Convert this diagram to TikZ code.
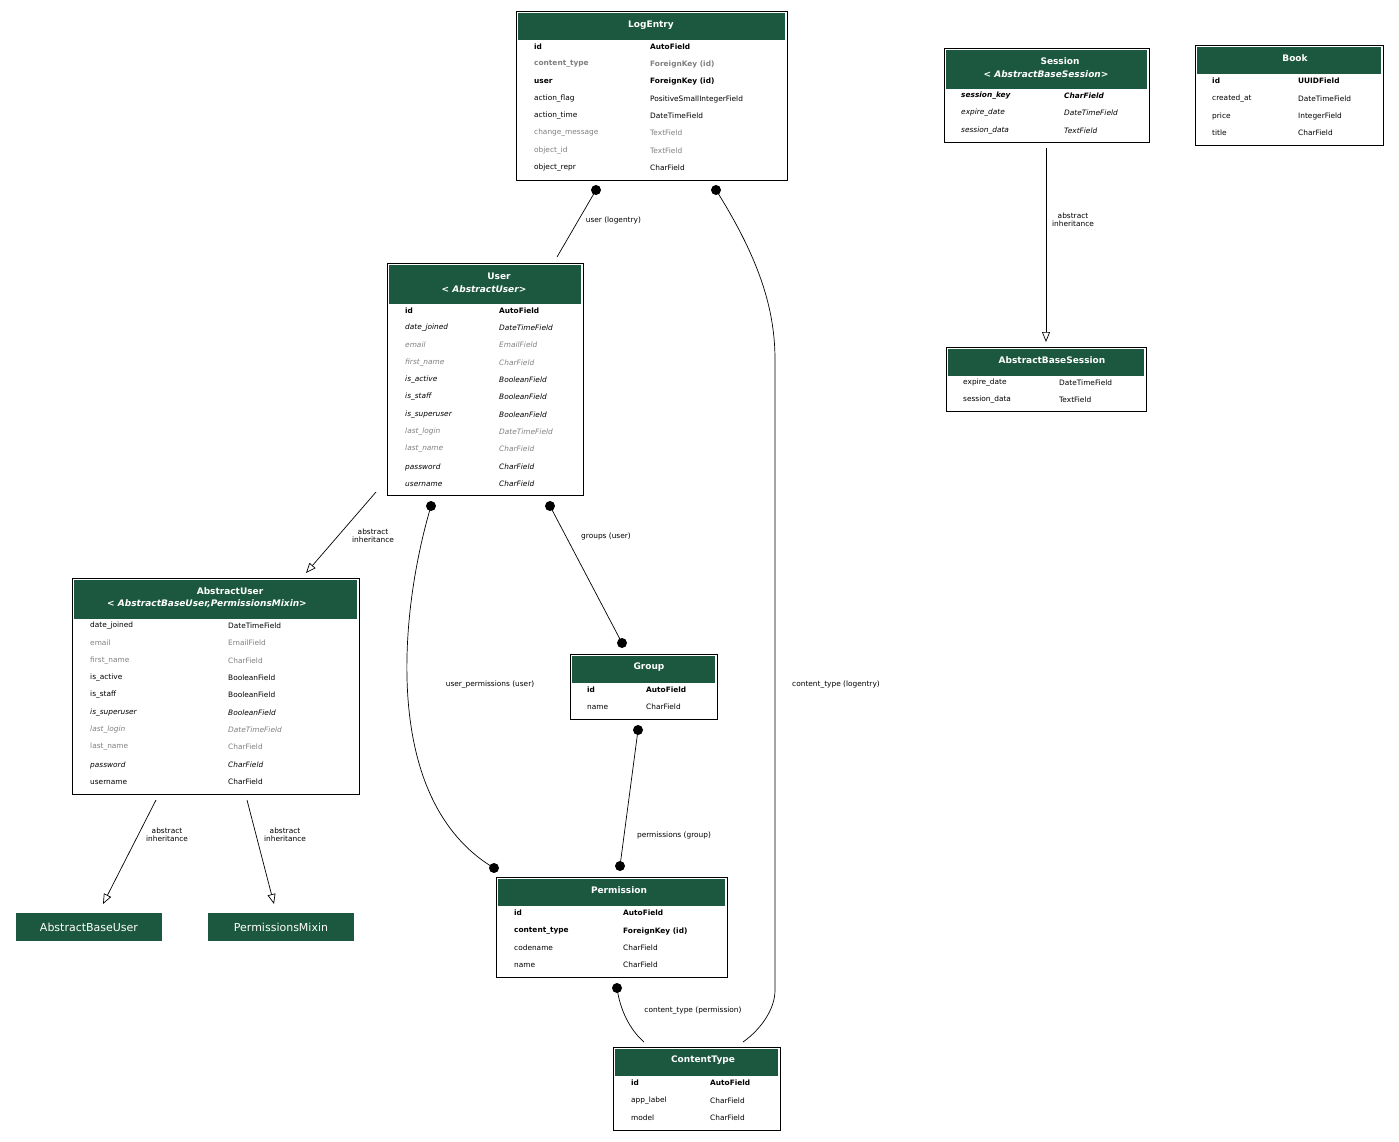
\documentclass[tikz,border=0pt]{standalone}
\usepackage{fontspec}
\setmainfont{DejaVu Sans}
\usetikzlibrary{arrows.meta}
\definecolor{hdr}{HTML}{1C5840}
\definecolor{gr}{HTML}{808080}
\tikzset{
 frame/.style={draw=black,line width=0.8pt,fill=white},
 hd/.style={fill=hdr},
 ttl/.style={text=white,font=\fontsize{9}{10}\selectfont\bfseries,inner sep=0pt},
 sub/.style={text=white,font=\fontsize{9}{10}\selectfont\bfseries\itshape,inner sep=0pt},
 f/.style={anchor=west,inner sep=0pt,font=\fontsize{7.4}{8}\selectfont},
 n/.style={f},
 b/.style={f,font=\fontsize{7.4}{8}\selectfont\bfseries},
 bg/.style={b,text=gr},
 g/.style={f,text=gr},
 i/.style={f,font=\fontsize{7.4}{8}\selectfont\itshape},
 ig/.style={i,text=gr},
 bi/.style={f,font=\fontsize{7.4}{8}\selectfont\bfseries\itshape},
 edge/.style={draw=black,line width=0.7pt},
 inh/.style={edge,-{Triangle[open,length=10pt,width=8pt]}},
 dot/.style={circle,fill=black,inner sep=0pt,minimum size=10pt},
 lbl/.style={font=\fontsize{7.4}{8}\selectfont,align=center,inner sep=1pt},
 plain/.style={fill=hdr,text=white,font=\fontsize{11}{12}\selectfont,minimum width=146pt,minimum height=28pt,inner sep=0pt}
}
\newcommand{\tb}[6]{% name x1 y1 x2 y2 headerbottom
 \path[frame] (#2,#3) rectangle (#4,#5);
 \path[hd] (#2+2,#3+2) rectangle (#4-2,#6);
 \coordinate (#1) at ({(#2+#4)/2},{(#3+#5)/2});
}
\newcommand{\rw}[5]{\node[#3] at (#1,#2) {#4}; \node[#3] at (#5,#2) {\phantom{x}};}
\newcommand{\fr}[6]{\node[#1] at (#2,#4) {#5}; \node[#1] at (#3,#4) {#6};}
\begin{document}
\begin{tikzpicture}[x=1pt,y=-1pt]
\useasboundingbox (0,0) rectangle (1399,1141);
% LogEntry
\tb{logentry}{516}{11}{787}{180}{40}
\node[ttl] at (651,25) {LogEntry};
\fr{b}{534}{650}{47}{id}{AutoField}
\fr{bg}{534}{650}{64}{content\_type}{ForeignKey (id)}
\fr{b}{534}{650}{81}{user}{ForeignKey (id)}
\fr{n}{534}{650}{99}{action\_flag}{PositiveSmallIntegerField}
\fr{n}{534}{650}{116}{action\_time}{DateTimeField}
\fr{g}{534}{650}{133}{change\_message}{TextField}
\fr{g}{534}{650}{151}{object\_id}{TextField}
\fr{n}{534}{650}{168}{object\_repr}{CharField}
% Session
\tb{session}{944}{48}{1149}{142}{89}
\node[ttl] at (1060,61) {Session};
\node[sub] at (1046,74) {< AbstractBaseSession>};
\fr{bi}{961}{1064}{96}{session\_key}{CharField}
\fr{i}{961}{1064}{113}{expire\_date}{DateTimeField}
\fr{i}{961}{1064}{131}{session\_data}{TextField}
% Book
\tb{book}{1195}{45}{1383}{145}{74}
\node[ttl] at (1295,58) {Book};
\fr{b}{1212}{1298}{81}{id}{UUIDField}
\fr{n}{1212}{1298}{99}{created\_at}{DateTimeField}
\fr{n}{1212}{1298}{116}{price}{IntegerField}
\fr{n}{1212}{1298}{133}{title}{CharField}
% AbstractBaseSession
\tb{abs}{946}{347}{1146}{411}{376}
\node[ttl] at (1052,360) {AbstractBaseSession};
\fr{n}{963}{1059}{383}{expire\_date}{DateTimeField}
\fr{n}{963}{1059}{400}{session\_data}{TextField}
% User
\tb{user}{387}{263}{583}{495}{304}
\node[ttl] at (499,276) {User};
\node[sub] at (484,289) {< AbstractUser>};
\fr{b}{405}{499}{311}{id}{AutoField}
\fr{i}{405}{499}{328}{date\_joined}{DateTimeField}
\fr{ig}{405}{499}{345}{email}{EmailField}
\fr{ig}{405}{499}{363}{first\_name}{CharField}
\fr{i}{405}{499}{380}{is\_active}{BooleanField}
\fr{i}{405}{499}{397}{is\_staff}{BooleanField}
\fr{i}{405}{499}{415}{is\_superuser}{BooleanField}
\fr{ig}{405}{499}{432}{last\_login}{DateTimeField}
\fr{ig}{405}{499}{449}{last\_name}{CharField}
\fr{i}{405}{499}{467}{password}{CharField}
\fr{i}{405}{499}{484}{username}{CharField}
% AbstractUser
\tb{au}{72}{578}{359}{794}{619}
\node[ttl] at (230,591) {AbstractUser};
\node[sub] at (207,604) {< AbstractBaseUser,PermissionsMixin>};
\fr{n}{90}{228}{626}{date\_joined}{DateTimeField}
\fr{g}{90}{228}{643}{email}{EmailField}
\fr{g}{90}{228}{661}{first\_name}{CharField}
\fr{n}{90}{228}{678}{is\_active}{BooleanField}
\fr{n}{90}{228}{695}{is\_staff}{BooleanField}
\fr{i}{90}{228}{713}{is\_superuser}{BooleanField}
\fr{ig}{90}{228}{730}{last\_login}{DateTimeField}
\fr{g}{90}{228}{747}{last\_name}{CharField}
\fr{i}{90}{228}{765}{password}{CharField}
\fr{n}{90}{228}{782}{username}{CharField}
% Group
\tb{group}{570}{654}{717}{719}{683}
\node[ttl] at (649,667) {Group};
\fr{b}{587}{646}{690}{id}{AutoField}
\fr{n}{587}{646}{707}{name}{CharField}
% Permission
\tb{perm}{496}{877}{727}{977}{906}
\node[ttl] at (619,890) {Permission};
\fr{b}{514}{623}{913}{id}{AutoField}
\fr{b}{514}{623}{931}{content\_type}{ForeignKey (id)}
\fr{n}{514}{623}{948}{codename}{CharField}
\fr{n}{514}{623}{965}{name}{CharField}
% ContentType
\tb{ct}{613}{1047}{780}{1130}{1076}
\node[ttl] at (703,1060) {ContentType};
\fr{b}{631}{710}{1083}{id}{AutoField}
\fr{n}{631}{710}{1101}{app\_label}{CharField}
\fr{n}{631}{710}{1118}{model}{CharField}
% plain
\node[plain] (abu) at (89,927) {AbstractBaseUser};
\node[plain] (pm) at (281,927) {PermissionsMixin};
% dots and endpoints
\node[dot] (d1) at (596,190) {};
\node[dot] (d2) at (716,190) {};
\node[dot] (d3) at (431,506) {};
\node[dot] (d4) at (550,506) {};
\node[dot] (d5) at (622,643) {};
\node[dot] (d6) at (494,868) {};
\node[dot] (d7) at (638,730) {};
\node[dot] (d8) at (620,866) {};
\node[dot] (d9) at (617,988) {};
\coordinate (e1) at (557,257);
\coordinate (e2) at (743,1042);
\coordinate (e3) at (644,1042);
\coordinate (s1) at (1046,148);
\coordinate (s2) at (1046,342);
\coordinate (u1) at (376,492);
\coordinate (u2) at (306,573);
\coordinate (a1) at (156,800);
\coordinate (a2) at (103,904);
\coordinate (a3) at (247,800);
\coordinate (a4) at (274,904);
% edges
\draw[edge] (d1.center) -- (e1) node[lbl,pos=0.45,right=6pt] {user (logentry)};
\draw[edge] (d2.center) .. controls (760,260) and (775,310) .. (775,360) -- (775,990) .. controls (775,1010) and (760,1030) .. (e2);
\node[lbl] at (836,685) {content\_type (logentry)};
\draw[inh] (s1) -- (s2);
\node[lbl] at (1073,220) {abstract\\inheritance};
\draw[inh] (u1) -- (u2);
\node[lbl] at (373,536) {abstract\\inheritance};
\draw[edge] (d4.center) -- (d5.center);
\node[lbl] at (606,536) {groups (user)};
\draw[edge] (d3.center) .. controls (400,610) and (380,800) .. (d6.center);
\node[lbl] at (490,685) {user\_permissions (user)};
\draw[edge] (d7.center) -- (d8.center);
\node[lbl] at (674,835) {permissions (group)};
\draw[edge] (d9.center) .. controls (620,1010) and (630,1030) .. (e3);
\node[lbl] at (693,1011) {content\_type (permission)};
\draw[inh] (a1) -- (a2);
\node[lbl] at (167,835) {abstract\\inheritance};
\draw[inh] (a3) -- (a4);
\node[lbl] at (285,835) {abstract\\inheritance};
\end{tikzpicture}
\end{document}
